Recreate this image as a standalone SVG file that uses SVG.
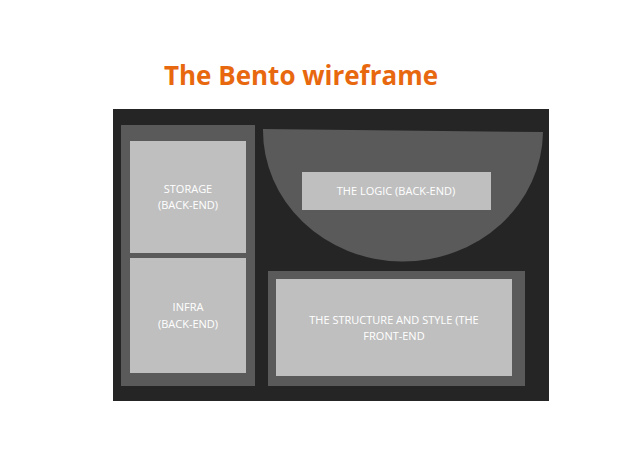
<svg xmlns="http://www.w3.org/2000/svg" width="638" height="451" viewBox="0 0 638 451">
<style>
.t{font-family:"Open Sans","Liberation Sans",sans-serif;font-size:11px;fill:#fff;text-anchor:middle}
.mid{fill:#5a5a5a}.lt{fill:#bfbfbf}
</style>
<rect width="638" height="451" fill="#fff"/>
<text x="301" y="85" font-family="Open Sans,Liberation Sans,sans-serif" font-weight="bold" font-size="26" fill="#E8680F" text-anchor="middle">The Bento wireframe</text>
<rect x="113" y="109" width="436" height="292" fill="#252525"/>
<g id="left"><rect class="mid" x="121" y="125" width="134" height="261"/></g>
<g id="storage"><rect class="lt" x="130" y="141" width="116" height="112"/>
<text class="t" x="188" y="193">STORAGE</text><text class="t" x="188" y="209">(BACK-END)</text></g>
<g id="infra"><rect class="lt" x="130" y="258" width="116" height="115"/>
<text class="t" x="188" y="311">INFRA</text><text class="t" x="188" y="328">(BACK-END)</text></g>
<g id="logic"><path class="mid" d="M263,129 L543,132 A140,131 0 0 1 263,129 Z"/>
<rect class="lt" x="302" y="172" width="189" height="38"/>
<text class="t" x="396" y="195">THE LOGIC (BACK-END)</text></g>
<g id="front"><rect class="mid" x="268" y="271" width="257" height="115"/>
<rect class="lt" x="276" y="279" width="236" height="97"/>
<text class="t" x="394" y="324">THE STRUCTURE AND STYLE (THE</text><text class="t" x="394" y="340">FRONT-END</text></g>
<g id="connectors"/>
</svg>
